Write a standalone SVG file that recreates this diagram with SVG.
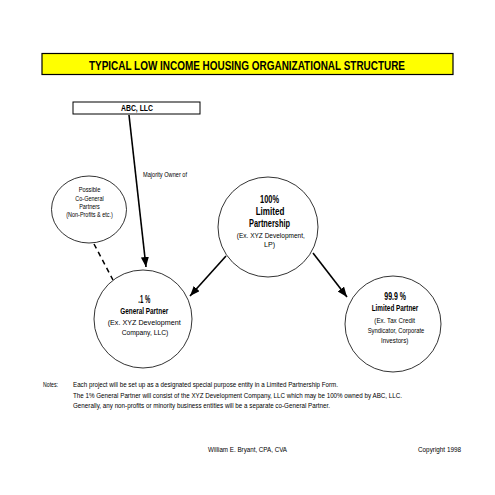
<svg xmlns="http://www.w3.org/2000/svg" width="495" height="495" viewBox="0 0 495 495">
<defs>
<marker id="arr" markerUnits="userSpaceOnUse" markerWidth="12" markerHeight="10" refX="10" refY="4" orient="auto">
<path d="M0,0 L10,4 L0,8 Z" fill="#000"/>
</marker>
<style>
text{font-family:"Liberation Sans",Arial,sans-serif;fill:#000;}
.t{font-size:8px;text-anchor:middle;}
.p{font-size:7px;text-anchor:middle;}
.b{font-size:8.5px;font-weight:bold;text-anchor:middle;}
.bb{font-size:10px;font-weight:bold;text-anchor:middle;}
.n{font-size:8px;}
.node{fill:#fff;stroke:#000;stroke-width:0.8;}
.conn{stroke:#000;stroke-width:1.6;fill:none;}
</style>
</defs>
<rect width="495" height="495" fill="#fff"/>
<g id="title">
<rect x="42" y="53.5" width="411" height="21" fill="#ffff00" stroke="#000" stroke-width="1.2"/>
<text x="247" y="70" font-size="12" font-weight="bold" text-anchor="middle" textLength="316" lengthAdjust="spacingAndGlyphs">TYPICAL LOW INCOME HOUSING ORGANIZATIONAL STRUCTURE</text>
</g>
<g id="connectors">
<line class="conn" x1="129" y1="115" x2="146" y2="267" marker-end="url(#arr)"/>
<line class="conn" x1="226" y1="256" x2="190" y2="296" marker-end="url(#arr)"/>
<line class="conn" x1="313" y1="253" x2="347" y2="297" marker-end="url(#arr)"/>
<line x1="94" y1="244" x2="113" y2="280" stroke="#000" stroke-width="1.5" stroke-dasharray="5,4"/>
<text x="143" y="177" font-size="7" textLength="44" lengthAdjust="spacingAndGlyphs">Majority Owner of</text>
</g>
<g id="abc">
<rect x="73" y="102" width="127" height="12" fill="#fff" stroke="#000" stroke-width="1"/>
<text x="137" y="111" class="b" textLength="32" lengthAdjust="spacingAndGlyphs">ABC, LLC</text>
</g>
<g id="cogp">
<ellipse class="node" cx="89" cy="209.5" rx="37.5" ry="33.5"/>
<text class="p" x="89.5" y="192.3" textLength="21.7" lengthAdjust="spacingAndGlyphs">Possible</text>
<text class="p" x="89.5" y="200.7" textLength="28.3" lengthAdjust="spacingAndGlyphs">Co-General</text>
<text class="p" x="89.5" y="209" textLength="20.7" lengthAdjust="spacingAndGlyphs">Partners</text>
<text class="p" x="89.5" y="217.3" textLength="46.7" lengthAdjust="spacingAndGlyphs">(Non-Profits &amp; etc.)</text>
</g>
<g id="lp">
<circle class="node" cx="268" cy="227" r="50"/>
<text class="bb" x="269.5" y="202.7" textLength="19" lengthAdjust="spacingAndGlyphs">100%</text>
<text class="bb" x="270" y="215" textLength="28.7" lengthAdjust="spacingAndGlyphs">Limited</text>
<text class="bb" x="269.5" y="226.7" textLength="41" lengthAdjust="spacingAndGlyphs">Partnership</text>
<text class="t" x="270.8" y="237.7" textLength="68" lengthAdjust="spacingAndGlyphs">(Ex. XYZ Development,</text>
<text class="t" x="269.5" y="247" textLength="11" lengthAdjust="spacingAndGlyphs">LP)</text>
</g>
<g id="gp">
<circle class="node" cx="143" cy="319" r="49"/>
<text class="bb" x="144.3" y="303" textLength="12" lengthAdjust="spacingAndGlyphs">.1 %</text>
<text class="b" x="144.2" y="314" textLength="48" lengthAdjust="spacingAndGlyphs">General Partner</text>
<text class="t" x="144.2" y="324.7" textLength="73" lengthAdjust="spacingAndGlyphs">(Ex. XYZ Development</text>
<text class="t" x="145" y="335" textLength="46.7" lengthAdjust="spacingAndGlyphs">Company, LLC)</text>
</g>
<g id="ltdp">
<circle class="node" cx="393" cy="324" r="48"/>
<text class="bb" x="395.2" y="300" textLength="21.7" lengthAdjust="spacingAndGlyphs">99.9 %</text>
<text class="b" x="395" y="310.7" textLength="46.7" lengthAdjust="spacingAndGlyphs">Limited Partner</text>
<text class="t" x="394.7" y="323.3" textLength="40.7" lengthAdjust="spacingAndGlyphs">(Ex. Tax Credit</text>
<text class="t" x="396" y="333.3" textLength="56.7" lengthAdjust="spacingAndGlyphs">Syndicator, Corporate</text>
<text class="t" x="394.7" y="343.3" textLength="27.3" lengthAdjust="spacingAndGlyphs">Investors)</text>
</g>
<g id="notes">
<text class="n" x="43" y="387" textLength="15" lengthAdjust="spacingAndGlyphs">Notes:</text>
<text class="n" x="73" y="387" textLength="265" lengthAdjust="spacingAndGlyphs">Each project will be set up as a designated special purpose entity in a Limited Partnership Form.</text>
<text class="n" x="73" y="398" textLength="329" lengthAdjust="spacingAndGlyphs">The 1% General Partner will consist of the XYZ Development Company, LLC which may be 100% owned by ABC, LLC.</text>
<text class="n" x="73" y="408" textLength="257" lengthAdjust="spacingAndGlyphs">Generally, any non-profits or minority business entities will be a separate co-General Partner.</text>
<text class="n" x="208" y="452" textLength="79" lengthAdjust="spacingAndGlyphs">William E. Bryant, CPA, CVA</text>
<text class="n" x="418" y="452" textLength="43" lengthAdjust="spacingAndGlyphs">Copyright 1998</text>
</g>
</svg>
